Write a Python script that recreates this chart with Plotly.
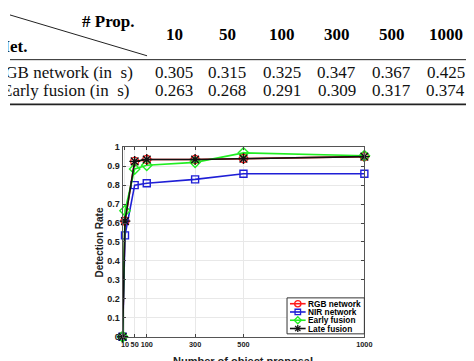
import plotly.graph_objects as go

# ---- table data ----
table_cols = ["10", "50", "100", "300", "500", "1000"]
rgb_time = ["0.305", "0.315", "0.325", "0.347", "0.367", "0.425"]
early_time = ["0.263", "0.268", "0.291", "0.309", "0.317", "0.374"]
row_labels = ["RGB network (in\u00a0\u00a0s)", "Early fusion (in\u00a0\u00a0s)"]

# ---- chart data ----
proposals = [0, 10, 50, 100, 300, 500, 1000]
rgb = [0, 0.61, 0.925, 0.935, 0.935, 0.94, 0.95]
nir = [0, 0.535, 0.80, 0.81, 0.83, 0.86, 0.86]
early = [0, 0.665, 0.885, 0.905, 0.92, 0.97, 0.955]
late = [0, 0.61, 0.925, 0.935, 0.935, 0.94, 0.95]
series_names = ["RGB network", "NIR network", "Early fusion", "Late fusion"]
x_ticks = [10, 50, 100, 300, 500, 1000]
y_ticks = [0, 0.1, 0.2, 0.3, 0.4, 0.5, 0.6, 0.7, 0.8, 0.9, 1]

W, H = 474, 361
def px(x):
    return x / W
def py(y):
    return 1 - y / H

colors = ["#ff1a1a", "#1f1fd6", "#22ee22", "#111111"]
symbols = ["circle-open", "square-open", "diamond-open", "asterisk-open"]
sizes = [8, 7, 8, 9]

fig = go.Figure()
for name, ys, col, sym, sz in zip(series_names, [rgb, nir, early, late], colors, symbols, sizes):
    fig.add_trace(go.Scatter(
        x=proposals, y=ys, name=name, mode="lines+markers", showlegend=False,
        line=dict(color=col, width=1.6),
        marker=dict(symbol=sym, size=sz, color=col, line=dict(color=col, width=1.4)),
        cliponaxis=False,
    ))

serif = "Liberation Serif"
sans = "Liberation Sans"
ann = []
# ---- table ----
ann.append(dict(x=px(130), y=py(9), text="<b># Prop.</b>", xanchor="right", yanchor="middle",
                font=dict(family=serif, size=17, color="black")))
ann.append(dict(x=px(20), y=py(34), text="<b>Met.</b>", xanchor="right", yanchor="middle",
                font=dict(family=serif, size=17, color="black")))
col_x = [168, 222, 278, 334, 390, 445]
for cx, c, a, b in zip(col_x, table_cols, rgb_time, early_time):
    ann.append(dict(x=px(cx), y=py(22), text="<b>%s</b>" % c, xanchor="center", yanchor="middle",
                    font=dict(family=serif, size=17, color="black")))
    ann.append(dict(x=px(cx), y=py(61), text=a, xanchor="center", yanchor="middle",
                    font=dict(family=serif, size=17, color="#111")))
    ann.append(dict(x=px(cx), y=py(80), text=b, xanchor="center", yanchor="middle",
                    font=dict(family=serif, size=17, color="#111")))
ann.append(dict(x=px(128), y=py(61), text=row_labels[0], xanchor="right", yanchor="middle",
                font=dict(family=serif, size=17, color="#111")))
ann.append(dict(x=px(124), y=py(80), text=row_labels[1], xanchor="right", yanchor="middle",
                font=dict(family=serif, size=17, color="#111")))

# ---- axis titles ----
ann.append(dict(x=px(238), y=py(350), text="<b>Number of object proposal</b>",
                xanchor="center", yanchor="top",
                font=dict(family=sans, size=11, color="#222")))
ann.append(dict(x=px(91), y=py(236), text="<b>Detection Rate</b>", textangle=-90,
                xanchor="center", yanchor="middle",
                font=dict(family=sans, size=10, color="#222")))

shapes = [
    dict(type="line", xref="paper", yref="paper", x0=px(0), y0=py(2), x1=px(140), y1=py(44),
         line=dict(color="#222", width=1)),
    dict(type="line", xref="paper", yref="paper", x0=0, y0=py(48), x1=1, y1=py(48),
         line=dict(color="#222", width=1)),
    dict(type="line", xref="paper", yref="paper", x0=0, y0=py(94), x1=1, y1=py(94),
         line=dict(color="#222", width=1.8)),
]

# ---- custom compact legend (MATLAB style) ----
lg_left, lg_right, lg_top, lg_bot = 283, 362, 293, 330
shapes.append(dict(type="rect", xref="paper", yref="paper",
                   x0=px(lg_left), x1=px(lg_right), y0=py(lg_top), y1=py(lg_bot),
                   fillcolor="white", line=dict(color="#333", width=1), layer="above"))
entry_y = [299, 307.5, 316, 324.5]
lx0, lx1, mx = 286, 302, 294
r = 3.2
for name, col, ey, k in zip(series_names, colors, entry_y, range(4)):
    shapes.append(dict(type="line", xref="paper", yref="paper", x0=px(lx0), x1=px(lx1),
                       y0=py(ey), y1=py(ey), line=dict(color=col, width=1.6), layer="above"))
    if k == 0:
        shapes.append(dict(type="circle", xref="paper", yref="paper", x0=px(mx - r), x1=px(mx + r),
                           y0=py(ey - r), y1=py(ey + r), fillcolor="rgba(0,0,0,0)",
                           line=dict(color=col, width=1.3), layer="above"))
    elif k == 1:
        shapes.append(dict(type="rect", xref="paper", yref="paper", x0=px(mx - 2.8), x1=px(mx + 2.8),
                           y0=py(ey - 2.8), y1=py(ey + 2.8), fillcolor="rgba(0,0,0,0)",
                           line=dict(color=col, width=1.3), layer="above"))
    elif k == 2:
        path = "M %f %f L %f %f L %f %f L %f %f Z" % (
            px(mx), py(ey - 3.6), px(mx + 3.6), py(ey), px(mx), py(ey + 3.6), px(mx - 3.6), py(ey))
        shapes.append(dict(type="path", xref="paper", yref="paper", path=path,
                           fillcolor="rgba(0,0,0,0)", line=dict(color=col, width=1.3), layer="above"))
    else:
        d = 3.6
        for dx, dy in [(0, d), (d, 0), (d * 0.75, d * 0.75), (d * 0.75, -d * 0.75)]:
            shapes.append(dict(type="line", xref="paper", yref="paper",
                               x0=px(mx - dx), x1=px(mx + dx), y0=py(ey - dy), y1=py(ey + dy),
                               line=dict(color=col, width=1.3), layer="above"))
    ann.append(dict(x=px(303), y=py(ey), text="<b>%s</b>" % name, xanchor="left", yanchor="middle",
                    font=dict(family=sans, size=8.3, color="black"), borderpad=0))

for a in ann:
    a.update(xref="paper", yref="paper", showarrow=False)

fig.update_layout(
    width=W, height=H,
    margin=dict(l=0, r=0, t=0, b=0),
    paper_bgcolor="white", plot_bgcolor="white",
    annotations=ann, shapes=shapes,
    showlegend=False,
    xaxis=dict(domain=[px(115), px(362)], range=[0, 1000],
               tickvals=x_ticks, ticktext=["<b>%d</b>" % v for v in x_ticks], tickangle=0,
               tickfont=dict(family=sans, size=7.3, color="#222"),
               ticks="inside", ticklen=3, tickcolor="#444",
               showline=True, linecolor="#555", linewidth=1, mirror="ticks",
               showgrid=True, gridcolor="#e8e8e8", gridwidth=1, zeroline=False),
    yaxis=dict(domain=[py(333), py(138)], range=[0, 1],
               tickvals=y_ticks, ticktext=["<b>%g</b>" % v for v in y_ticks],
               tickfont=dict(family=sans, size=9, color="#222"),
               ticks="inside", ticklen=3, tickcolor="#444",
               showline=True, linecolor="#555", linewidth=1, mirror="ticks",
               showgrid=True, gridcolor="#e8e8e8", gridwidth=1, zeroline=False),
)
fig.write_html("out.html")
